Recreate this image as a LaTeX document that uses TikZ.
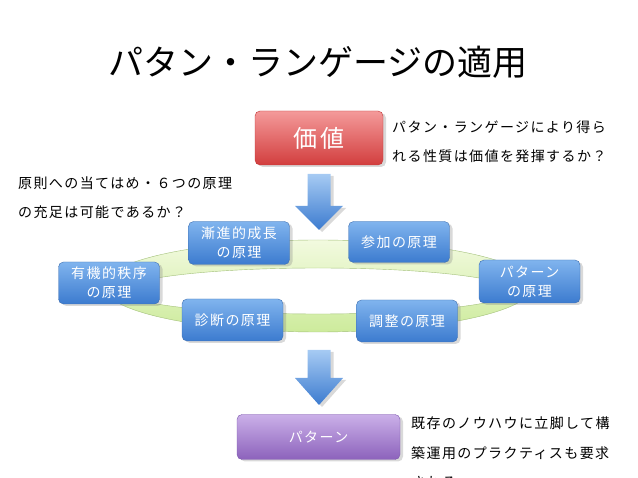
\documentclass[tikz,border=0pt]{standalone}
\usepackage{fontspec}
\setmainfont{Noto Sans CJK JP}
\newfontfamily\jpsp[LetterSpace=10]{Noto Sans CJK JP}
\usetikzlibrary{shadows}
\definecolor{boxtop}{HTML}{80B4EE}
\definecolor{boxbot}{HTML}{3C7BCF}
\definecolor{boxline}{HTML}{3F6FB0}
\definecolor{redtop}{HTML}{F49A9A}
\definecolor{redbot}{HTML}{D23E3E}
\definecolor{redline}{HTML}{C03535}
\definecolor{purtop}{HTML}{CBB0E8}
\definecolor{purbot}{HTML}{8C62BC}
\definecolor{purline}{HTML}{7E5AAE}
\definecolor{ringtop}{HTML}{F2FADF}
\definecolor{ringbot}{HTML}{CDEB9C}
\definecolor{ringline}{HTML}{A3C07A}
\tikzset{
  softshadow/.style = {drop shadow={opacity=0.3, shadow xshift=3pt, shadow yshift=-2pt}},
  principle/.style = {
    draw=boxline, rounded corners=5pt, top color=boxtop, bottom color=boxbot,
    text=white, align=center, font=\jpsp\fontsize{14}{19}\selectfont,
    softshadow, minimum width=101pt, minimum height=42pt, inner sep=0pt
  },
  valuebox/.style = {principle, draw=redline, top color=redtop, bottom color=redbot,
    minimum width=128pt, minimum height=54pt, font=\jpsp\fontsize{24}{28}\selectfont},
  patternbox/.style = {principle, draw=purline, top color=purtop, bottom color=purbot,
    minimum width=163pt, minimum height=45pt},
  note/.style = {anchor=west, align=left, inner sep=0pt, font=\jpsp\fontsize{14}{29.5}\selectfont}
}

\begin{document}
\begin{tikzpicture}[x=1pt,y=-1pt]
  \useasboundingbox (0,0) rectangle (638,478);
  \node[font=\fontsize{35}{38}\selectfont] (title) at (318,62) {パタン・ランゲージの適用};

  % ring
  \shade[even odd rule, top color=ringtop, bottom color=ringbot, draw=ringline]
    (318,286) ellipse [x radius=215, y radius=46]
    (318,291) ellipse [x radius=195, y radius=23];

  % block arrows
  \foreach \t/\h/\e in {174/206/230, 350/378/405} {
    \shade[top color=boxtop!70!white, bottom color=boxbot, softshadow]
      (307.5,\t) -- (330.5,\t) -- (330.5,\h) -- (343,\h) -- (319,\e)
      -- (295,\h) -- (307.5,\h) -- cycle;
  }

  \node[valuebox] (value) at (319,138) {価値};
  \node[patternbox] (pattern) at (318.5,437) {パターン};

  \node[principle, minimum height=43pt] (gradual) at (239,243) {漸進的成長\\の原理};
  \node[principle] (organic) at (109,283) {有機的秩序\\の原理};
  \node[principle] (diagnosis) at (232.5,320) {診断の原理};
  \node[principle, minimum height=41pt] (participation) at (399,242) {参加の原理};
  \node[principle, minimum height=43pt] (patterns) at (529.5,281.5) {パターン\\の原理};
  \node[principle] (coordination) at (407,321) {調整の原理};

  \node[note] (valuenote) at (392,141.5) {パタン・ランゲージにより得ら\\れる性質は価値を発揮するか？};
  \node[note] (principlenote) at (18,197.5) {原則への当てはめ・６つの原理\\の充足は可能であるか？};
  \node[note, anchor=north west] (patternnote) at (411,417) {既存のノウハウに立脚して構\\築運用のプラクティスも要求\\される};
\end{tikzpicture}
\end{document}
